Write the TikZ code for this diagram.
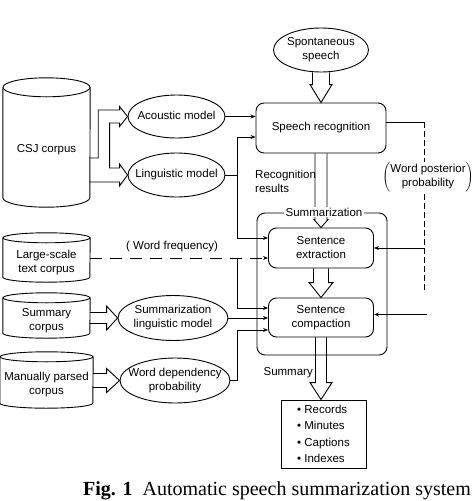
\documentclass[tikz,border=0pt]{standalone}
\usepackage{fontspec}
\setmainfont{Liberation Sans}
\newfontfamily\capfont{Liberation Serif}
\usetikzlibrary{shapes.geometric,calc,arrows.meta}
\newcommand\ovtext[1]{\makebox[0pt]{\begin{tabular}{@{}c@{}}#1\end{tabular}}}
% cylinder drawn round a named body node: #1 name, #2 y radius (pt), #3 x radius (pt)
\newcommand\cylshape[3]{%
  \draw[ln] ($(#1.north west)+(0,-#2)$) -- ($(#1.south west)+(0,-#2)$)
     arc[start angle=180,end angle=360,x radius=#3pt,y radius=#2pt]
     -- ($(#1.north east)+(0,-#2)$);
  \draw[ln] ($(#1.north)+(0,-#2)$) ellipse[x radius=#3pt,y radius=#2pt];}
% outline (hollow) arrow: #1 start, #2 tip, #3 shaft half width, #4 head half width, #5 head length
\newcommand\hollowarrow[5]{%
  \draw[hollow] ($(#1)!#3!90:(#2)$) -- ($(#2)!#5!(#1)!#3!90:(#2)$)
     -- ($(#2)!#5!(#1)!#4!90:(#2)$) -- (#2)
     -- ($(#2)!#5!(#1)!#4!-90:(#2)$) -- ($(#2)!#5!(#1)!#3!-90:(#2)$)
     -- ($(#1)!#3!-90:(#2)$);}
\begin{document}
\begin{tikzpicture}[x=1pt,y=-1pt,
  every node/.style={font=\fontsize{11.5}{14}\selectfont, inner sep=0pt, align=center},
  ln/.style={line width=0.9pt},
  oval/.style={draw, ellipse, ln},
  rbox/.style={draw, rounded corners=8pt, ln},
  arr/.style={ln, -{Stealth[length=5pt,width=4pt]}},
  hollow/.style={ln, line join=miter},
  wfdash/.style={dash pattern=on 12pt off 8pt},
  vdash/.style={ln, dash pattern=on 6pt off 3pt}]
\useasboundingbox (0,0) rectangle (474,501);

% ---- cylinders (corpora)
\node[minimum width=87pt, minimum height=110pt] (csj) at (46.5,152) {\raisebox{7pt}{CSJ corpus}};
\cylshape{csj}{9.5}{43.5}
\node[minimum width=87pt, minimum height=39pt] (lsc) at (46.5,262.5) {Large-scale\\text corpus};
\cylshape{lsc}{5}{43.5}
\node[minimum width=87pt, minimum height=35pt] (sumc) at (46.5,320.5) {Summary\\corpus};
\cylshape{sumc}{5}{43.5}
\node[minimum width=93pt, minimum height=46pt] (man) at (46.5,385) {Manually parsed\\corpus};
\cylshape{man}{5}{46.5}

% ---- ellipses
\node[oval, minimum width=95pt, minimum height=44pt] (spont) at (321,50) {\ovtext{Spontaneous\\speech}};
\node[oval, minimum width=97pt, minimum height=43pt] (acou) at (176.5,116.5) {\ovtext{Acoustic model}};
\node[oval, minimum width=97pt, minimum height=44pt] (ling) at (176.5,175) {\ovtext{Linguistic model}};
\node[oval, minimum width=110pt, minimum height=45pt] (slm) at (173,318) {\ovtext{Summarization\\linguistic model}};
\node[oval, minimum width=110pt, minimum height=45pt] (wdp) at (175,380.5) {\ovtext{Word dependency\\probability}};

% ---- boxes
\node[rbox, minimum width=130pt, minimum height=50pt] (sr) at (321,128) {Speech recognition};
\node[rbox, minimum width=130pt, minimum height=142pt] (summ) at (322,284) {};
\node[rbox, minimum width=105pt, minimum height=40pt] (se) at (321,248) {Sentence\\extraction};
\node[rbox, minimum width=105pt, minimum height=39pt] (sc) at (321,317.5) {Sentence\\compaction};
\node[draw, ln, minimum width=85pt, minimum height=68pt, align=left,
      font=\fontsize{11.5}{16.5}\selectfont] (out) at (323.5,434)
      {• Records\\• Minutes\\• Captions\\• Indexes};

% ---- hollow arrows
\hollowarrow{spont.south}{sr.north}{8.5pt}{11pt}{18pt}
\hollowarrow{sr.south}{se.north}{6pt}{7pt}{8pt}
\hollowarrow{se.south}{sc.north}{7.5pt}{12pt}{15pt}
\hollowarrow{sc.south}{sc.south |- out.north}{5.5pt}{11pt}{17pt}
\hollowarrow{sumc.east |- slm.west}{slm.west}{5.5pt}{12pt}{11pt}
\hollowarrow{man.east |- wdp.west}{wdp.west}{7pt}{12pt}{13pt}
\draw[hollow] ($(csj.east)+(0,6)$) -- ++(8,0) |- ($(acou.west)+(-8,-6.5)$) -- ++(0,-3.5)
   -- (acou.west) -- ++(-8,10) -- ++(0,-3.5) -- ++(-10,0) |- ($(ling.west)+(-8,-7)$)
   -- ++(0,-4) -- (ling.west) -- ++(-8,11) -- ++(0,-4) -- ($(csj.east)+(0,30)$);

% ---- thin connectors
\coordinate (bx) at (237,175);
\draw[arr] (acou.east) -- (acou.east -| sr.west);
\draw[ln] (ling.east) -- (bx |- ling.east);
\draw[arr] (bx |- ling.east) |- ($(sr.west)+(0,9)$);
\draw[arr] (bx |- ling.east) |- ($(se.west)+(0,-10)$);
\draw[arr, wfdash] ($(lsc.east)+(0,-4.5)$) -- ($(se.west)+(0,10)$);
\draw[arr] ($(bx |- se.west)+(0,10)$) |- ($(sc.west)+(0,-9.5)$);
\draw[arr] (slm.east) -- (slm.east -| sc.west);
\draw[arr] (wdp.east) -- (bx |- wdp.east) |- ($(sc.west)+(0,12.5)$);

\coordinate (rx) at (424,122);
\draw[ln] ($(sr.east)+(0,-6)$) -- (rx);
\draw[vdash] (rx) -- ++(0,170);
\draw[arr] (rx |- se.east) -- (se.east);
\draw[arr] ($(rx |- sc.east)+(3,-3)$) -- ($(sc.east)+(0,-3)$);

% ---- labels
\node[fill=white, inner xsep=2pt, inner ysep=1pt] (summt) at (324,212) {Summarization};
\node[anchor=west, align=left] (recog) at (255,181) {Recognition\\results};
\node[anchor=east] (summary) at (313,373) {Summary};
\node (wf) at (172,247) {( Word frequency)};
\node[fill=white] (wpp) at (428,177)
   {$\left(\begin{tabular}{@{}c@{}}Word posterior\\probability\end{tabular}\right)$};

% ---- caption
\node[anchor=base west, font=\capfont\fontsize{20}{24}\selectfont] (cap) at (83,495.5)
   {\textbf{Fig. 1}\enspace Automatic speech summarization system};
\end{tikzpicture}
\end{document}
